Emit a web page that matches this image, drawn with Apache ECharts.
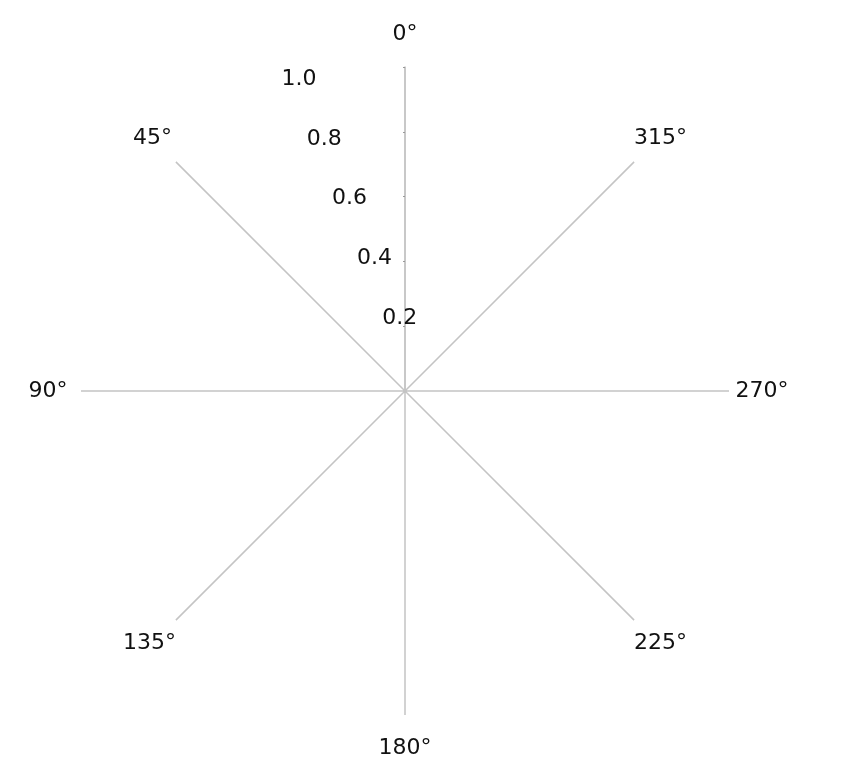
<!DOCTYPE html>
<html>
<head>
<meta charset="utf-8">
<script src="https://cdn.jsdelivr.net/npm/echarts@6/dist/echarts.min.js"></script>
<style>
  html, body { margin: 0; padding: 0; background: #fff; }
  #chart { width: 851px; height: 777px; }
</style>
</head>
<body>
<div id="chart"></div>
<script>
const angleTicks = [0, 45, 90, 135, 180, 225, 270, 315];
const radiusTicks = [0.2, 0.4, 0.6, 0.8, 1.0];

const FONT = "'DejaVu Sans', sans-serif";
const FONT_SIZE = 22;
const CX = 405, CY = 391, R = 324;
const LABEL_DIST = 357; // angle labels are centred on this circle
const TEXT = '#111';
const GRID = '#c4c4c4';

const ctx = document.createElement('canvas').getContext('2d');
ctx.font = FONT_SIZE + 'px ' + FONT;
const textWidth = (s) => ctx.measureText(s).width;

function angleText(a) {
  return a + '°';
}

// echarts aligns angle labels by quadrant, so pad each one to sit centred on a circle
function angleRich() {
  const rich = {};
  angleTicks.forEach((a) => {
    const rad = a * Math.PI / 180;
    const dx = -Math.sin(rad), dy = -Math.cos(rad);
    const w = textWidth(angleText(a)), h = FONT_SIZE;
    const shift = LABEL_DIST - R;
    const pad = [0, 0, 0, 0]; // top right bottom left
    const tx = dx * shift, ty = dy * shift;
    if (Math.abs(dx) < 0.3) {
      if (tx > 0) pad[3] = 2 * tx; else pad[1] = -2 * tx;
    } else if (dx > 0) {
      pad[3] = Math.max(0, tx - w / 2);
    } else {
      pad[1] = Math.max(0, -tx - w / 2);
    }
    if (Math.abs(dy) < 0.3) {
      if (ty > 0) pad[0] = 2 * ty; else pad[2] = -2 * ty;
    } else if (dy > 0) {
      pad[0] = Math.max(0, ty - h / 2);
    } else {
      pad[2] = Math.max(0, -ty - h / 2);
    }
    rich['a' + a] = { padding: pad, fontSize: FONT_SIZE, fontFamily: FONT, color: TEXT };
  });
  return rich;
}

// radial labels drift up-left as the radius grows
const R_MARGIN = -14;
function radiusRich() {
  const rich = {};
  radiusTicks.forEach((v) => {
    const w = textWidth(v.toFixed(1));
    const offX = 20 - 126 * v;      // wanted label centre, relative to axis line
    const offY = -13 + 25 * v;      // relative to the tick
    const pr = Math.max(0, -offX - R_MARGIN - w / 2);
    const pad = [Math.max(0, 2 * offY), pr, Math.max(0, -2 * offY), 0];
    rich['r' + Math.round(v * 10)] = { padding: pad, fontSize: FONT_SIZE, fontFamily: FONT, color: TEXT };
  });
  return rich;
}

const chart = echarts.init(document.getElementById('chart'));
chart.setOption({
  backgroundColor: '#fff',
  animation: false,
  polar: { center: [CX, CY], radius: R },
  angleAxis: {
    type: 'value',
    min: 0,
    max: 360,
    interval: 45,
    startAngle: 90,
    clockwise: false,
    axisLine: { show: false },
    axisTick: { show: false },
    axisLabel: {
      margin: 0,
      formatter: (v) => '{a' + v + '|' + angleText(v) + '}',
      rich: angleRich()
    },
    splitLine: { show: true, lineStyle: { color: GRID, width: 1.5 } }
  },
  radiusAxis: {
    type: 'value',
    min: 0,
    max: 1,
    interval: 0.2,
    axisLine: { show: true, lineStyle: { color: GRID, width: 1.5 } },
    axisTick: { show: true, length: 2, lineStyle: { color: '#999' } },
    axisLabel: {
      margin: R_MARGIN,
      showMinLabel: false,
      formatter: (v) => v === 0 ? '' : '{r' + Math.round(v * 10) + '|' + v.toFixed(1) + '}',
      rich: radiusRich()
    },
    splitLine: { show: false }
  },
  series: [{ type: 'line', coordinateSystem: 'polar', data: [] }]
});
</script>
</body>
</html>
